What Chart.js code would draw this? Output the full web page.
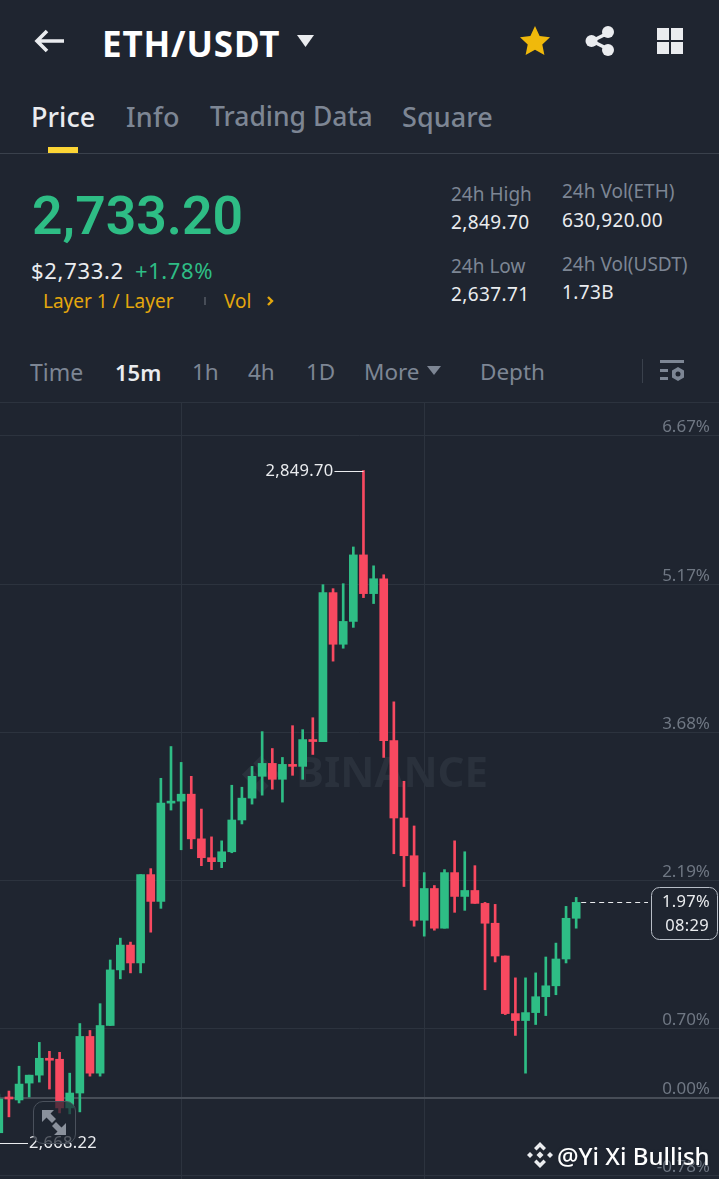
<!DOCTYPE html>
<html><head><meta charset="utf-8">
<script src="https://cdn.jsdelivr.net/npm/chart.js@4"></script>
<style>
html,body{margin:0;padding:0;background:#1f2530;width:719px;height:1179px;overflow:hidden;font-family:"Noto Sans",sans-serif}
.t{position:absolute;white-space:nowrap;line-height:1;transform:translateY(-50%)}
.g{color:#7d8694}.w{color:#eaecef}.y{color:#e4a70d}.u{color:#2ebd85}
svg,.d{position:absolute}
#wrap{position:absolute;left:0;top:403px;width:719px;height:776px}
</style></head><body>
<svg style="left:34px;top:28px" width="32" height="26" viewBox="0 0 32 26"><path d="M30 13H4M13 3L3 13l10 10" fill="none" stroke="#eaecef" stroke-width="3.6"/></svg>
<div class="t" style="left:102px;top:43px;font-size:35px;font-weight:700;color:#fff;letter-spacing:.85px">ETH/USDT</div>
<svg style="left:296px;top:34px" width="19" height="14"><path d="M1 1h17l-8.500 12z" fill="#eaecef"/></svg>
<svg style="left:519px;top:25px" width="32" height="32" viewBox="0 0 32 32"><path d="M16 1l4.600 9.900 10.400 1.300-7.700 7.200 2.100 10.700L16 24.800 6.600 30.100l2.100-10.700L1 12.200l10.400-1.300z" fill="#f0b90b"/></svg>
<svg style="left:584px;top:25px" width="32" height="32"><path d="M24 8L8 16l16 8" fill="none" stroke="#eaecef" stroke-width="3.500"/><circle cx="24" cy="7" r="6" fill="#eaecef"/><circle cx="7.500" cy="16" r="6" fill="#eaecef"/><circle cx="24" cy="25" r="6" fill="#eaecef"/></svg>
<svg style="left:656px;top:27px" width="28" height="28"><path d="M1 1h12v12H1zM15 1h12v12H15zM1 15h12v12H1zM15 15h12v12H15z" fill="#eaecef"/></svg>

<div class="t w" style="left:31px;top:116px;font-size:27px;font-weight:500;letter-spacing:.1px">Price</div>
<div class="t g" style="left:126px;top:116px;font-size:27px;font-weight:500;letter-spacing:.3px">Info</div>
<div class="t g" style="left:210px;top:116px;font-size:26.5px;font-weight:500">Trading Data</div>
<div class="t g" style="left:402px;top:116px;font-size:27px;font-weight:500;letter-spacing:.1px">Square</div>
<div class="d" style="left:48px;top:147px;width:30px;height:6px;background:#fcd535"></div>
<div class="d" style="left:0;top:153px;width:719px;height:1px;background:#3a414c"></div>

<div class="t u" style="left:32px;top:216px;font-size:53.5px;font-weight:600;font-family:Roboto">2,733.20</div>
<div class="t w" style="left:31px;top:270px;font-size:22px;letter-spacing:.7px">$2,733.2</div>
<div class="t u" style="left:135px;top:270px;font-size:22px;letter-spacing:.6px">+1.78%</div>
<div class="t y" style="left:43px;top:301px;font-size:19px">Layer 1 / Layer</div>
<div class="d" style="left:204px;top:297px;width:2px;height:8px;background:#474d57"></div>
<div class="t y" style="left:224px;top:301px;font-size:19px">Vol</div>
<svg style="left:266px;top:295px" width="10" height="12"><path d="M2 2l4 4-4 4" fill="none" stroke="#e4a70d" stroke-width="2.400"/></svg>

<div class="t g" style="left:451px;top:194px;font-size:19px">24h High</div>
<div class="t w" style="left:451px;top:222px;font-size:19px;letter-spacing:.4px">2,849.70</div>
<div class="t g" style="left:451px;top:266px;font-size:19px">24h Low</div>
<div class="t w" style="left:451px;top:294px;font-size:19px;letter-spacing:.4px">2,637.71</div>
<div class="t g" style="left:562px;top:191px;font-size:19px">24h Vol(ETH)</div>
<div class="t w" style="left:562px;top:220px;font-size:19px;letter-spacing:.4px">630,920.00</div>
<div class="t g" style="left:562px;top:264px;font-size:19px">24h Vol(USDT)</div>
<div class="t w" style="left:562px;top:292px;font-size:19px;letter-spacing:.4px">1.73B</div>

<div class="t g" style="left:30px;top:372px;font-size:23px">Time</div>
<div class="t w" style="left:115px;top:372px;font-size:22px;font-weight:600">15m</div>
<div class="t g" style="left:192px;top:372px;font-size:22.5px">1h</div>
<div class="t g" style="left:248px;top:372px;font-size:22.5px">4h</div>
<div class="t g" style="left:306px;top:372px;font-size:22.5px">1D</div>
<div class="t g" style="left:364px;top:372px;font-size:22.5px">More</div>
<svg style="left:427px;top:366px" width="14" height="10"><path d="M0 0h14l-7 9z" fill="#7d8694"/></svg>
<div class="t g" style="left:480px;top:372px;font-size:22.5px">Depth</div>
<div class="d" style="left:642px;top:359px;width:1px;height:24px;background:#3a414c"></div>
<svg style="left:660px;top:360px" width="24" height="24"><path d="M0 0h24v3H0zM0 9h8v3H0zM0 17h8v3H0z" fill="#7d8694"/><path d="M18 7l6 3.500v7L18 21l-6-3.500v-7z" fill="#7d8694"/><circle cx="18" cy="14" r="2.500" fill="#1f2530"/></svg>
<div class="d" style="left:0;top:402px;width:719px;height:1px;background:#2c333e"></div>

<div id="wrap"><canvas id="c" width="719" height="776" style="width:719px;height:776px;display:block"></canvas></div>

<div class="d" style="left:33px;top:1101px;width:41px;height:41px;border:1.500px solid #4a515c;border-radius:10px;background:rgba(31,37,48,.72)"></div>
<svg style="left:40px;top:1109px" width="28" height="28"><path d="M2 1h12l-3.500 3.500 5.500 5.500-4 4-5.500-5.500L2 13z" fill="#8a919c"/><path d="M26 26H14l3.500-3.500L12 17l4-4 5.500 5.500L26 14z" fill="#8a919c"/></svg>

<svg style="left:526px;top:1141px" width="28" height="28" viewBox="0 0 28 28"><g fill="#eaecef"><path d="M14 1l6 6-2.500 2.500L14 6 10.500 9.500 8 7z"/><path d="M14 27l6-6-2.500-2.500L14 22l-3.500-3.500L8 21z"/><path d="M1 14l3-3 3 3-3 3z"/><path d="M21 14l3-3 3 3-3 3z"/><path d="M14 10.500l3.500 3.500-3.500 3.500-3.500-3.500z"/></g></svg>
<div class="t" style="left:557px;top:1156px;font-size:24px;color:#fff;font-weight:500;text-shadow:0 0 3px #1f2530">@Yi Xi Bullish</div>

<script>
const opens  = [-0.35,0.00,-0.02,0.15,0.23,0.40,0.39,-0.10,0.05,0.62,0.25,0.73,1.29,1.54,1.36,2.25,1.98,2.97,2.99,3.06,2.61,2.42,2.38,2.48,2.80,3.02,3.24,3.37,3.21,3.36,3.34,3.61,3.59,5.09,4.57,4.80,5.47,5.08,5.23,3.60,2.82,2.44,1.79,2.11,1.71,2.27,2.03,2.09,1.96,1.76,1.43,0.85,0.78,0.86,1.02,1.13,1.40,1.81];
const highs  = [0.04,0.07,0.32,0.23,0.56,0.47,0.46,0.25,0.75,0.68,0.95,1.39,1.61,1.57,2.25,2.31,3.22,3.54,3.38,3.24,2.91,2.63,2.59,3.15,3.13,3.34,3.69,3.52,3.43,3.75,3.71,3.83,5.17,5.13,5.18,5.55,6.32,5.36,5.27,3.99,3.19,2.74,2.27,2.14,2.30,2.59,2.48,2.34,1.97,1.95,1.43,1.21,1.21,1.26,1.42,1.56,1.93,2.02];
const lows   = [-0.35,-0.19,-0.05,0.00,0.16,0.09,-0.15,-0.16,-0.14,0.22,0.22,0.73,1.20,1.26,1.26,1.67,1.91,2.90,2.50,2.51,2.34,2.30,2.32,2.47,2.76,2.96,3.05,3.11,2.98,3.25,3.21,3.46,3.59,4.40,4.53,4.74,5.04,4.98,3.43,2.46,2.13,1.73,1.63,1.69,1.71,1.87,1.89,1.96,1.09,1.37,0.84,0.63,0.25,0.74,0.83,1.04,1.36,1.71];
const closes = [0.00,-0.02,0.14,0.23,0.40,0.38,-0.10,0.05,0.62,0.25,0.73,1.29,1.54,1.36,2.25,1.98,2.97,2.99,3.06,2.61,2.42,2.38,2.48,2.80,3.02,3.24,3.37,3.21,3.36,3.34,3.61,3.59,5.09,4.57,4.80,5.47,5.08,5.23,3.60,2.82,2.44,1.79,2.11,1.71,2.27,2.03,2.09,1.96,1.76,1.43,0.85,0.78,0.86,1.02,1.13,1.40,1.81,1.97];
const percentTicks = [6.67,5.17,3.68,2.19,0.70,0.00,-0.78];
const sessionTicks = [18,42];
const highMark = {label:"2,849.70", index:36, value:6.32};
const lowMark  = {label:"2,668.22", value:-0.45};
const lastMark = {pct:"1.97%", countdown:"08:29", value:1.97};

const UP="#2ebd85", DOWN="#f84960";
const colors = closes.map((c,i)=> c>=opens[i]?UP:DOWN);

const overlay = {
  id:"overlay",
  beforeDatasetsDraw(ch){
    const {ctx}=ch, y=ch.scales.y.getPixelForValue(3.25);
    ctx.save();
    ctx.fillStyle="#2a313c";
    ctx.font='700 42px "Noto Sans"';
    ctx.textBaseline="middle";
    ctx.fillText("BINANCE",296,y);
    ctx.translate(261,y);ctx.rotate(Math.PI/4);
    [[-14,-14],[2,-14],[-14,2],[2,2]].forEach(p=>ctx.fillRect(p[0],p[1],11,11));
    ctx.restore();
  },
  afterDatasetsDraw(ch){
    const {ctx,scales:{x,y}}=ch;
    ctx.save();
    ctx.font='16.5px "Noto Sans"';
    ctx.textBaseline="middle";
    ctx.letterSpacing="0.3px";
    ctx.strokeStyle="#eaecef";ctx.fillStyle="#eaecef";ctx.lineWidth=1;
    const hx=x.getPixelForValue(highMark.index),hy=Math.round(y.getPixelForValue(highMark.value))+.5;
    ctx.beginPath();ctx.moveTo(hx,hy);ctx.lineTo(hx-29,hy);ctx.stroke();
    ctx.textAlign="right";ctx.fillText(highMark.label,hx-30,hy);
    const ly=Math.round(y.getPixelForValue(lowMark.value))+.5;
    ctx.beginPath();ctx.moveTo(0,ly);ctx.lineTo(28,ly);ctx.stroke();
    ctx.textAlign="left";ctx.fillText(lowMark.label,29,ly);
    const py=Math.round(y.getPixelForValue(lastMark.value))+.5;
    const px=x.getPixelForValue(closes.length-1);
    ctx.setLineDash([5,4]);
    ctx.beginPath();ctx.moveTo(px+5,py);ctx.lineTo(648,py);ctx.stroke();
    ctx.setLineDash([]);
    ctx.fillStyle="#1f2530";ctx.strokeStyle="#b7bdc6";
    ctx.beginPath();ctx.roundRect(651.5,py-15,66,52,8);ctx.fill();ctx.stroke();
    ctx.fillStyle="#eaecef";ctx.textAlign="right";
    ctx.fillText(lastMark.pct,710,py);
    ctx.fillText(lastMark.countdown,709,py+24);
    ctx.restore();
  }
};

new Chart(document.getElementById("c"),{
  type:"bar",
  data:{datasets:[
    {label:"body",data:closes.map((c,i)=>({x:i,y:[opens[i],c]})),backgroundColor:colors,barThickness:8,grouped:false,order:1,minBarLength:2},
    {label:"wick",data:highs.map((h,i)=>({x:i,y:[lows[i],h]})),backgroundColor:colors,barThickness:2,grouped:false,order:2}
  ]},
  options:{
    responsive:false,animation:false,devicePixelRatio:1,
    layout:{padding:0},
    plugins:{legend:{display:false},tooltip:{enabled:false}},
    scales:{
      x:{type:"linear",min:0.118,max:71.1,offset:false,
        afterBuildTicks(a){a.ticks=sessionTicks.map(v=>({value:v}));},
        afterFit(a){a.height=0;a.paddingLeft=a.paddingRight=a.paddingTop=a.paddingBottom=0;},
        ticks:{display:false},
        border:{display:false},
        grid:{offset:false,color:"#2c333e",lineWidth:1,drawTicks:false}},
      y:{type:"linear",position:"right",min:-0.816,max:7.0,
        afterBuildTicks(a){a.ticks=percentTicks.map(v=>({value:v}));},
        afterFit(a){a.width=0;a.paddingLeft=a.paddingRight=a.paddingTop=a.paddingBottom=0;},
        ticks:{mirror:true,align:"end",padding:-9,autoSkip:false,color:"#6f7783",font:{size:17,family:"Noto Sans"},
          callback:v=>v.toFixed(2)+"%"},
        border:{display:false},
        grid:{drawTicks:false,
          color:c=>c.tick&&c.tick.value===0?"#474d57":"#2c333e",
          lineWidth:c=>c.tick&&c.tick.value===0?2:1}}
    }
  },
  plugins:[overlay]
});
</script>
</body></html>
